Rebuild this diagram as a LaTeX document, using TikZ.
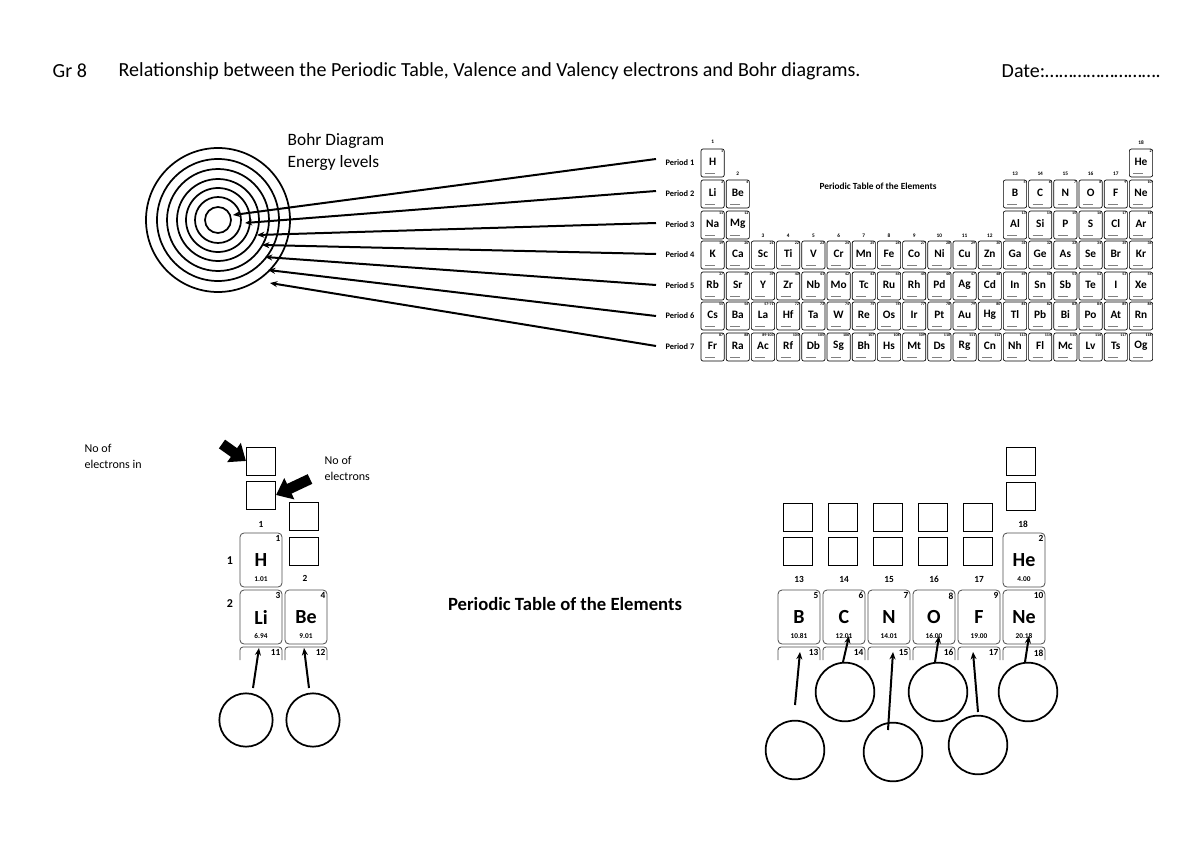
\documentclass[tikz,border=0pt]{standalone}
\usepackage{fontspec}
\setmainfont{Carlito}
\usetikzlibrary{calc,arrows.meta}
\begin{document}
\begin{tikzpicture}[x=0.75pt,y=-0.75pt,
  cell/.style={draw,rounded corners=1.5pt,line width=0.5pt},
  bigcell/.style={draw,rounded corners=3pt,line width=0.6pt,gray!60!black},
  sym/.style={font=\bfseries\fontsize{8.5}{8.5}\selectfont},
  tnum/.style={font=\bfseries\fontsize{3}{3}\selectfont,anchor=north east,inner sep=0.5pt},
  tmass/.style={font=\bfseries\fontsize{4}{4}\selectfont,inner sep=0pt},
  bsym/.style={font=\bfseries\fontsize{15}{15}\selectfont},
  bnum/.style={font=\bfseries\fontsize{7}{7}\selectfont,anchor=north east,inner sep=1pt},
  bmass/.style={font=\bfseries\fontsize{5.5}{5.5}\selectfont},
  box/.style={draw,line width=0.6pt,minimum width=22pt,minimum height=21pt},
  ring/.style={draw,line width=1.3pt},
  arr/.style={-{Stealth[length=5.5pt,width=4.5pt]},line width=1.5pt},
  big/.style={-{Triangle[length=11pt,width=17pt]},line width=8pt},
  plab/.style={font=\bfseries\fontsize{6.3}{6.3}\selectfont,anchor=east}]
\useasboundingbox (0,0) rectangle (1200,849);
% title
\node[anchor=west,font=\fontsize{15}{15}\selectfont] (gr) at (48,71) {Gr 8};
\node[anchor=west,font=\fontsize{15}{15}\selectfont] (ttl) at (114,71) {Relationship between the Periodic Table, Valence and Valency electrons and Bohr diagrams.};
\node[anchor=west,font=\fontsize{15}{15}\selectfont] (date) at (997,71) {Date:\dots\dots\dots\dots\dots\dots\dots\dots.};
% Bohr
\coordinate (c) at (218,220);
\foreach \r in {13,23,32,41,51,61,72} {\draw[ring] (c) circle (\r);}
\node[anchor=west,align=left,font=\fontsize{13}{16}\selectfont] (bohr) at (283,152) {Bohr Diagram\\Energy levels};
% top periodic table
\foreach \p/\y in {1/163,2/194,3/225,4/255,5/286,6/316,7/347}{
  \node[plab] (p\p) at (699,\y) {Period \p};}
\foreach \p/\x/\y/\sy in {1/233/215/159,2/245/223/191,3/257/235/223,4/262/245/254,5/265/257/285,6/268/270/316,7/270/283/346}{
  \coordinate (e\p) at (\x,\y);
  \coordinate (s\p) at (656,\sy);
  \draw[arr] (s\p) -- (e\p);}
\node[font=\bfseries\fontsize{7}{7}\selectfont] (ptt) at (878,186) {Periodic Table of the Elements};
\newcommand\tc[4]{% col, row-y, symbol, number
  \pgfmathsetmacro\xx{700+(#1-1)*25.2}
  \draw[cell] (\xx+1,#2-14) rectangle (\xx+24.2,#2+14);
  \node[sym] at (\xx+12.6,#2-1) {#3};
  \node[tnum] at (\xx+24.2,#2-14) {#4};
  \draw[line width=0.8pt,gray] (\xx+5,#2+10.5) -- (\xx+15,#2+10.5);}
\foreach \c/\s/\n in {1/H/1,18/He/2}{\tc{\c}{163}{\s}{\n}}
\foreach \c/\s/\n in {1/Li/3,2/Be/4,13/B/5,14/C/6,15/N/7,16/O/8,17/F/9,18/Ne/10}{\tc{\c}{194}{\s}{\n}}
\foreach \c/\s/\n in {1/Na/11,2/Mg/12,13/Al/13,14/Si/14,15/P/15,16/S/16,17/Cl/17,18/Ar/18}{\tc{\c}{225}{\s}{\n}}
\foreach \s [count=\c] in {K,Ca,Sc,Ti,V,Cr,Mn,Fe,Co,Ni,Cu,Zn,Ga,Ge,As,Se,Br,Kr}{\pgfmathtruncatemacro\n{18+\c}\tc{\c}{255}{\s}{\n}}
\foreach \s [count=\c] in {Rb,Sr,Y,Zr,Nb,Mo,Tc,Ru,Rh,Pd,Ag,Cd,In,Sn,Sb,Te,I,Xe}{\pgfmathtruncatemacro\n{36+\c}\tc{\c}{286}{\s}{\n}}
\foreach \s/\n [count=\c] in {Cs/55,Ba/56,La/57-71,Hf/72,Ta/73,W/74,Re/75,Os/76,Ir/77,Pt/78,Au/79,Hg/80,Tl/81,Pb/82,Bi/83,Po/84,At/85,Rn/86}{\tc{\c}{316}{\s}{\n}}
\foreach \s/\n [count=\c] in {Fr/87,Ra/88,Ac/89-103,Rf/104,Db/105,Sg/106,Bh/107,Hs/108,Mt/109,Ds/110,Rg/111,Cn/112,Nh/113,Fl/114,Mc/115,Lv/116,Ts/117,Og/118}{\tc{\c}{347}{\s}{\n}}
\foreach \g [count=\c] in {1,2,3,4,5,6,7,8,9,10,11,12,13,14,15,16,17,18}{
  \pgfmathsetmacro\xx{700+(\c-1)*25.2+12.6}
  \ifnum\c=1 \node[tmass] at (\xx,142) {1};\fi
  \ifnum\c=2 \node[tmass] at (\xx,174) {2};\fi
  \ifnum\c>12 \ifnum\c<18 \node[tmass] at (\xx,174) {\g};\fi\fi
  \ifnum\c>2 \ifnum\c<13 \node[tmass] at (\xx,236) {\g};\fi\fi
  \ifnum\c=18 \node[tmass] at (\xx,143) {18};\fi}
% bottom left
\node[anchor=west,align=left,font=\fontsize{9}{12}\selectfont] (nl) at (80,456) {No of\\electrons in};
\node[anchor=west,align=left,font=\fontsize{9}{12}\selectfont] (nr) at (320,468) {No of\\electrons};
\node[box] (b1) at (261,461) {};
\node[box] (b2) at (261,495) {};
\node[box] (b3) at (304,516) {};
\node[box] (b4) at (304,551) {};
\coordinate (a1) at (222,444); \coordinate (a2) at (310,479);
\draw[big] (a1) -- (b1.west);
\draw[big] (a2) -- (b2.east);
\node[font=\bfseries\fontsize{7}{7}\selectfont] (g1) at (261,524) {1};
\node[font=\bfseries\fontsize{7}{7}\selectfont] (g2) at (305,578) {2};
\node[font=\bfseries\fontsize{9}{9}\selectfont] (r1) at (230,561) {1};
\node[font=\bfseries\fontsize{9}{9}\selectfont] (r2) at (230,604) {2};
\newcommand\bc[6]{% name, x-left, y-top, symbol, num, mass
  \draw[bigcell] (#2,#3) rectangle (#2+42,#3+54);
  \node[bsym] (#1) at (#2+21,#3+27) {#4};
  \node[bnum] at (#2+42,#3+1) {#5};
  \node[bmass] at (#2+21,#3+46) {#6};}
\newcommand\pc[3]{% x-left, y-top, num
  \draw[line width=0.6pt,gray!60!black] (#1,#2+13) -- (#1,#2+3) arc[start angle=180,end angle=270,radius=3] -- (#1+39,#2) arc[start angle=270,end angle=360,radius=3] -- (#1+42,#2+13);
  \node[bnum] at (#1+42,#2+1) {#3};}
\bc{H}{240}{533}{H}{1}{1.01}
\bc{Li}{240}{590}{Li}{3}{6.94}
\bc{Be}{285}{590}{Be}{4}{9.01}
\pc{240}{647}{11}\pc{285}{647}{12}
\node[draw,circle,line width=1.3pt,minimum size=40pt] (cLi) at (246,720) {};
\node[draw,circle,line width=1.3pt,minimum size=40pt] (cBe) at (313,720) {};
\coordinate (tLi) at (259,648); \coordinate (tBe) at (304,648);
\coordinate (sLi) at (253,688); \coordinate (sBe) at (309,688);
\draw[arr] (sLi) -- (tLi);
\draw[arr] (sBe) -- (tBe);
\node[font=\bfseries\fontsize{14}{14}\selectfont] (ptb) at (565,604) {Periodic Table of the Elements};
% bottom right
\bc{He}{1003}{533}{He}{2}{4.00}
\foreach \n/\s/\x/\m/\g/\z in {B/B/778/10.81/13/5,C/C/823/12.01/14/6,N/N/868/14.01/15/7,O/O/913/16.00/16/8,F/F/958/19.00/17/9,Ne/Ne/1003/20.18/18/10}{
  \bc{\n}{\x}{590}{\s}{\z}{\m}
  \pc{\x}{647}{\g}}
\foreach \g/\x in {13/799,14/844,15/889,16/934,17/979}{
  \node[font=\bfseries\fontsize{7}{7}\selectfont] at (\x,579) {\g};
  \node[box] (u\g) at (\x-1,517) {};
  \node[box] (v\g) at (\x-1,551) {};}
\node[font=\bfseries\fontsize{7}{7}\selectfont] (g18) at (1023,524) {18};
\node[box] (h1) at (1021,461) {};
\node[box] (h2) at (1021,496) {};
\foreach \n/\x/\y/\sx/\sy/\tx/\ty in {cB/795/750/795/705/800/652, cC/845/692/843/662/849/636, cN/893/752/888/730/893/652, cO/938/692/935/662/939/636, cF/978/745/978/712/973/652, cNe/1028/692/1025/662/1029/636}{
  \node[draw,circle,line width=1.3pt,minimum size=44pt] (\n) at (\x,\y) {};
  \coordinate (t\n) at (\tx,\ty);
  \coordinate (s\n) at (\sx,\sy);
  \draw[arr] (s\n) -- (t\n);}
\end{tikzpicture}
\end{document}
